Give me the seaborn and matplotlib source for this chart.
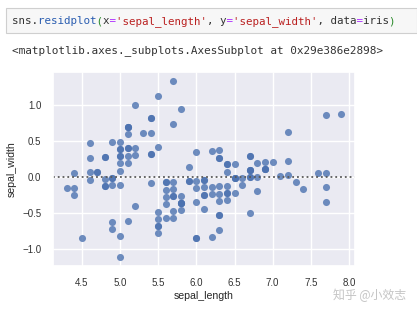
import matplotlib
matplotlib.use("Agg")
import matplotlib.pyplot as plt
import seaborn as sns
import pandas as pd

sepal_length = [
    5.1, 4.9, 4.7, 4.6, 5.0, 5.4, 4.6, 5.0, 4.4, 4.9, 5.4, 4.8, 4.8, 4.3, 5.8, 5.7, 5.4, 5.1, 5.7, 5.1,
    5.4, 5.1, 4.6, 5.1, 4.8, 5.0, 5.0, 5.2, 5.2, 4.7, 4.8, 5.4, 5.2, 5.5, 4.9, 5.0, 5.5, 4.9, 4.4, 5.1,
    5.0, 4.5, 4.4, 5.0, 5.1, 4.8, 5.1, 4.6, 5.3, 5.0,
    7.0, 6.4, 6.9, 5.5, 6.5, 5.7, 6.3, 4.9, 6.6, 5.2, 5.0, 5.9, 6.0, 6.1, 5.6, 6.7, 5.6, 5.8, 6.2, 5.6,
    5.9, 6.1, 6.3, 6.1, 6.4, 6.6, 6.8, 6.7, 6.0, 5.7, 5.5, 5.5, 5.8, 6.0, 5.4, 6.0, 6.7, 6.3, 5.6, 5.5,
    5.5, 6.1, 5.8, 5.0, 5.6, 5.7, 5.7, 6.2, 5.1, 5.7,
    6.3, 5.8, 7.1, 6.3, 6.5, 7.6, 4.9, 7.3, 6.7, 7.2, 6.5, 6.4, 6.8, 5.7, 5.8, 6.4, 6.5, 7.7, 7.7, 6.0,
    6.9, 5.6, 7.7, 6.3, 6.7, 7.2, 6.2, 6.1, 6.4, 7.2, 7.4, 7.9, 6.4, 6.3, 6.1, 7.7, 6.3, 6.4, 6.0, 6.9,
    6.7, 6.9, 5.8, 6.8, 6.7, 6.7, 6.3, 6.5, 6.2, 5.9,
]
sepal_width = [
    3.5, 3.0, 3.2, 3.1, 3.6, 3.9, 3.4, 3.4, 2.9, 3.1, 3.7, 3.4, 3.0, 3.0, 4.0, 4.4, 3.9, 3.5, 3.8, 3.8,
    3.4, 3.7, 3.6, 3.3, 3.4, 3.0, 3.4, 3.5, 3.4, 3.2, 3.1, 3.4, 4.1, 4.2, 3.1, 3.2, 3.5, 3.6, 3.0, 3.4,
    3.5, 2.3, 3.2, 3.5, 3.8, 3.0, 3.8, 3.2, 3.7, 3.3,
    3.2, 3.2, 3.1, 2.3, 2.8, 2.8, 3.3, 2.4, 2.9, 2.7, 2.0, 3.0, 2.2, 2.9, 2.9, 3.1, 3.0, 2.7, 2.2, 2.5,
    3.2, 2.8, 2.5, 2.8, 2.9, 3.0, 2.8, 3.0, 2.9, 2.6, 2.4, 2.4, 2.7, 2.7, 3.0, 3.4, 3.1, 2.3, 3.0, 2.5,
    2.6, 3.0, 2.6, 2.3, 2.7, 3.0, 2.9, 2.9, 2.5, 2.8,
    3.3, 2.7, 3.0, 2.9, 3.0, 3.0, 2.5, 2.9, 2.5, 3.6, 3.2, 2.7, 3.0, 2.5, 2.8, 3.2, 3.0, 3.8, 2.6, 2.2,
    3.2, 2.8, 2.8, 2.7, 3.3, 3.2, 2.8, 3.0, 2.8, 3.0, 2.8, 3.8, 2.8, 2.8, 2.6, 3.0, 3.4, 3.1, 3.0, 3.1,
    3.1, 3.1, 2.7, 3.2, 3.3, 3.0, 2.5, 3.0, 3.4, 3.0,
]
x_ticks = [4.5, 5.0, 5.5, 6.0, 6.5, 7.0, 7.5, 8.0]
y_ticks = [-1.0, -0.5, 0.0, 0.5, 1.0]

code_line = "sns.residplot(x='sepal_length', y='sepal_width', data=iris)"
output_line = "<matplotlib.axes._subplots.AxesSubplot at 0x29e386e2898>"
watermark = "知乎 @小效志"

iris = pd.DataFrame({"sepal_length": sepal_length, "sepal_width": sepal_width})

sns.set_theme(style="darkgrid")
plt.rcParams["font.family"] = ["Liberation Sans", "Noto Sans CJK SC"]

W, H = 417, 311
fig = plt.figure(figsize=(W / 100, H / 100), dpi=100)
fig.patch.set_facecolor("white")

# code cell box
box = plt.Rectangle((6 / W, 1 - 33 / H), (W - 6) / W, 25 / H, transform=fig.transFigure,
                    facecolor="#f7f7f7", edgecolor="#cfcfcf", lw=0.8)
fig.patches.append(box)

# colour the code line by token (monospace: other chars replaced by spaces)
colors = ["#333333"] * len(code_line)
def paint(sub, col, start=0):
    i = code_line.find(sub, start)
    for k in range(i, i + len(sub)):
        colors[k] = col
    return i + len(sub)
paint("residplot", "#2a5db0")
for s in ["'sepal_length'", "'sepal_width'"]:
    paint(s, "#ba2121")
pos = 0
for _ in range(3):
    pos = code_line.find("=", pos)
    colors[pos] = "#aa22ff"
    pos += 1
colors[code_line.find("(")] = "#2a8a2a"
colors[code_line.rfind(")")] = "#2a8a2a"
for col in set(colors):
    s = "".join(c if colors[i] == col else " " for i, c in enumerate(code_line))
    fig.text(12.5 / W, 1 - 21.5 / H, s, family="DejaVu Sans Mono", fontsize=7.85,
             color=col, va="center", ha="left")

fig.text(11.5 / W, 1 - 50.5 / H, output_line, family="DejaVu Sans Mono", fontsize=7.93,
         color="#333333", va="center", ha="left")

ax = fig.add_axes([53 / W, 1 - 266 / H, 302 / W, 194 / H])
sns.residplot(x="sepal_length", y="sepal_width", data=iris, ax=ax,
              scatter_kws={"s": 26, "linewidths": 0})
for ln in ax.lines:
    ln.set_color(".35")
    ln.set_linewidth(1.3)
ax.set_xticks(x_ticks)
ax.set_yticks(y_ticks)
ax.tick_params(labelsize=7, colors=".2", pad=2.5)
ax.set_xlabel("sepal_length", fontsize=7.6, color=".15", labelpad=2)
ax.set_ylabel("sepal_width", fontsize=7.6, color=".15", labelpad=4)

fig.text(406 / W, 1 - 299.5 / H, watermark, family=["Noto Sans CJK SC", "DejaVu Sans"],
         fontsize=8.6, color="#c4c4c4", ha="right", va="baseline")

fig.savefig("out.png", dpi=100, facecolor="white")
